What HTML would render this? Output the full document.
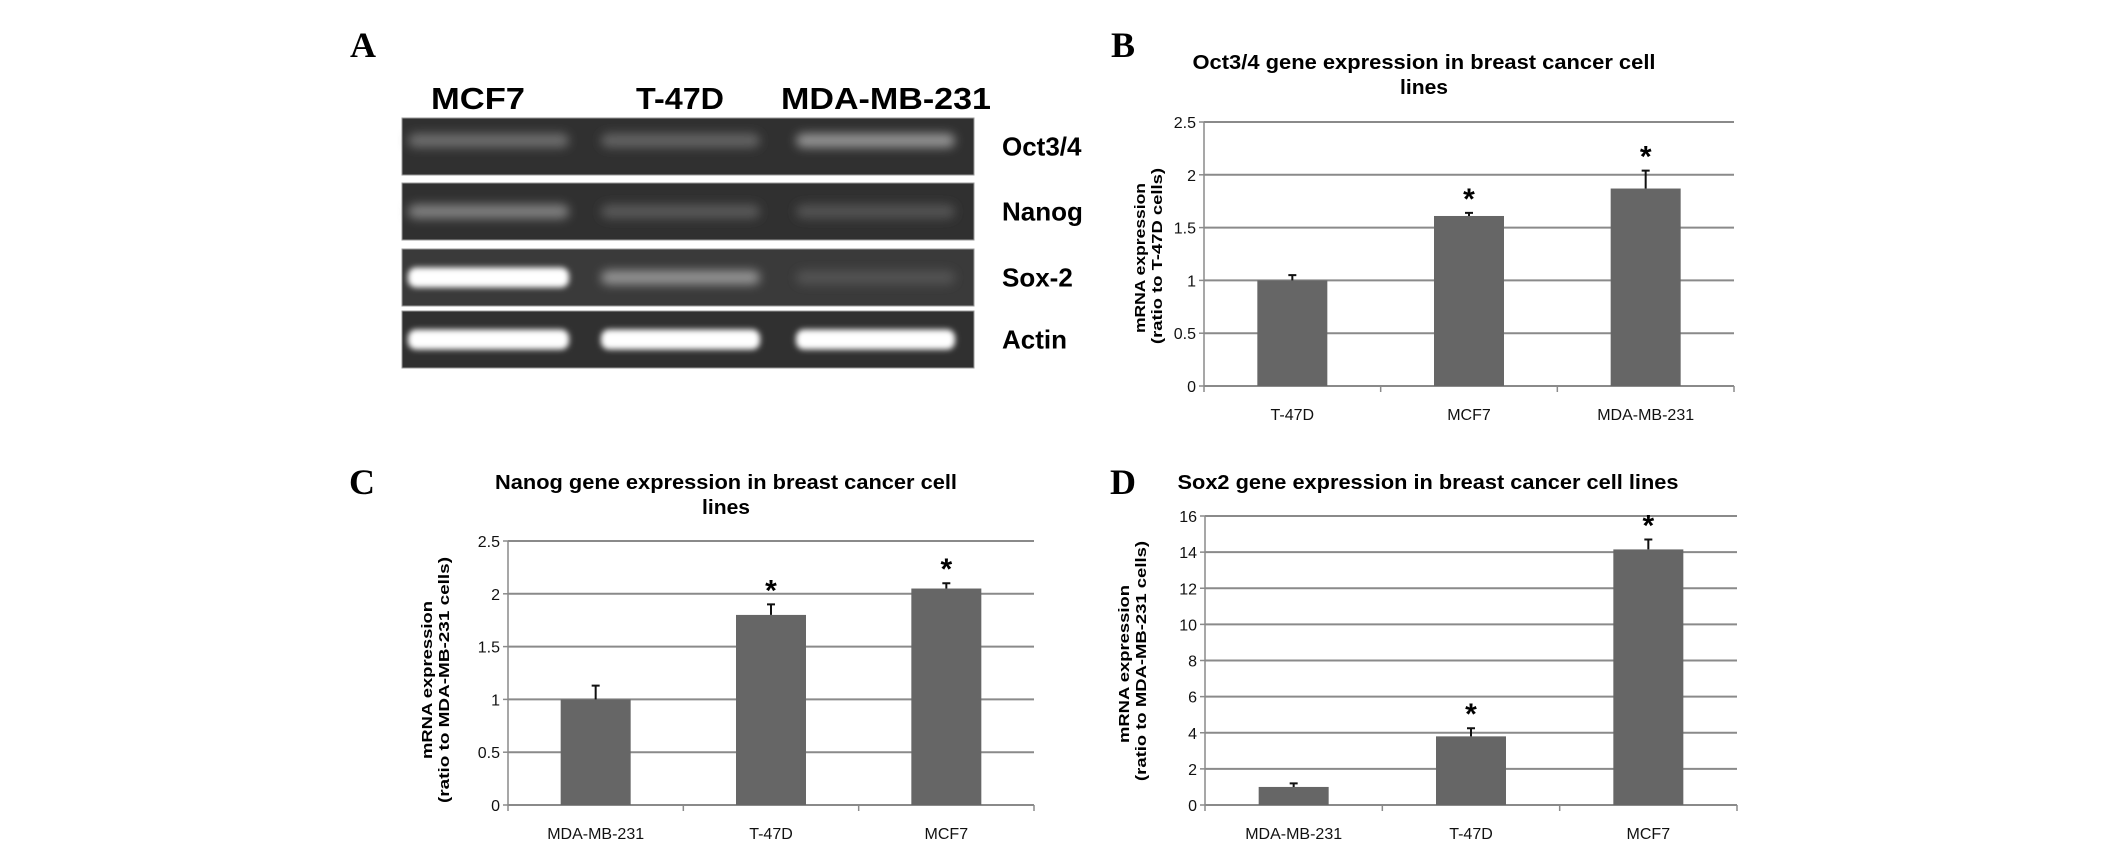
<!DOCTYPE html>
<html><head><meta charset="utf-8"><style>
html,body{margin:0;padding:0;background:#fff;}
svg{display:block;}
text{font-family:"Liberation Sans Narrow","Liberation Sans",sans-serif;}
.lab{font-family:"Liberation Serif",serif;font-weight:bold;font-size:36px;}
.gel{font-family:"Liberation Sans",sans-serif;font-weight:bold;}
.ttl{font-weight:bold;font-size:20px;}
.tick{font-size:16px;fill:#111;}
.ax{font-family:"Liberation Sans",sans-serif;font-weight:bold;font-size:15px;}
</style></head><body>
<svg id="fig" width="2126" height="842" viewBox="0 0 2126 842">
<defs>
<filter id="blur6" x="-20%" y="-100%" width="140%" height="300%"><feGaussianBlur stdDeviation="5"/></filter>
<filter id="blur3" x="-20%" y="-100%" width="140%" height="300%"><feGaussianBlur stdDeviation="3"/></filter>
</defs>
<text class="lab" x="350" y="57">A</text>
<text class="lab" x="1111" y="57">B</text>
<text class="lab" x="349" y="494">C</text>
<text class="lab" x="1110" y="494">D</text>
<g id="gelg"></g>
<g id="chartB"></g>
<g id="chartC"></g>
<g id="chartD"></g>
</svg>
<script>
const NS="http://www.w3.org/2000/svg";
// Gel data
const gelLanes=["MCF7","T-47D","MDA-MB-231"];
const gelGenes=["Oct3/4","Nanog","Sox-2","Actin"];
const gelIntensity=[[0.25,0.2,0.45],[0.35,0.15,0.12],[1.0,0.45,0.12],[1.0,1.0,1.0]];
// Chart B
const catsB=["T-47D","MCF7","MDA-MB-231"];
const valsB=[1.0,1.61,1.87];
const errB=[0.05,0.03,0.17];
const sigB=[false,true,true];
const ticksB=["0","0.5","1","1.5","2","2.5"];
// Chart C
const catsC=["MDA-MB-231","T-47D","MCF7"];
const valsC=[1.0,1.8,2.05];
const errC=[0.13,0.1,0.05];
const sigC=[false,true,true];
const ticksC=["0","0.5","1","1.5","2","2.5"];
// Chart D
const catsD=["MDA-MB-231","T-47D","MCF7"];
const valsD=[1.0,3.8,14.15];
const errD=[0.2,0.45,0.55];
const sigD=[false,true,true];
const ticksD=["0","2","4","6","8","10","12","14","16"];

function mk(tag,attrs,parent,txt){const e=document.createElementNS(NS,tag);for(const k in attrs)e.setAttribute(k,attrs[k]);if(txt!==undefined)e.textContent=txt;parent.appendChild(e);return e;}

// Gel
(function(){
  const g=document.getElementById('gelg');
  const gx0=402,gx1=974;
  const rowsY=[118,183,249,311],rowH=57;
  const laneX=[[408,569],[601,760],[796,955]];
  const labX=[478,680,886];
  const labW=[94,88,210];
  gelLanes.forEach((l,i)=>{
    const t=mk('text',{x:labX[i],y:109,'text-anchor':'middle','class':'gel','font-size':31,textLength:labW[i],lengthAdjust:'spacingAndGlyphs'},g,l);
    
    
  });
  gelGenes.forEach((gn,r)=>{
    const y=rowsY[r];
    const bg=mk('rect',{x:gx0,y:y,width:gx1-gx0,height:rowH,fill:r==2?'#3a3a3a':'#303030',stroke:'#999','stroke-width':1},g);
    
    
    gelIntensity[r].forEach((v,i)=>{
      const c=Math.round(60+195*v);
      const h=r==3?20:(r==2&&i==0?20:14);
      const b=mk('rect',{x:laneX[i][0],y:y+rowH/2-h/2-(r==0?6:0),width:laneX[i][1]-laneX[i][0],height:h,rx:8,fill:`rgb(${c},${c},${c})`,filter:v>0.9?'url(#blur3)':'url(#blur6)'},g);
      
      
    });
    const t=mk('text',{x:1002,y:y+rowH/2+9,'class':'gel','font-size':26},g,gn);
    
    
  });
})();

function chart(id,o){
  const g=document.getElementById(id);
  const {x0,x1,yT,yB,max,cats,vals,errs,sig,ticks,title,ytitle}=o;
  const ys=v=>yB-(v/max)*(yB-yT);
  const slot=(x1-x0)/cats.length;
  const xc=i=>x0+slot*(i+0.5);
  ticks.forEach(t=>{
    const v=parseFloat(t),y=ys(v);
    if(v>0){const gl=mk('line',{x1:x0,x2:x1,y1:y,y2:y,stroke:'#8a8a8a','stroke-width':2},g);
      }
    mk('line',{x1:x0-5,x2:x0,y1:y,y2:y,stroke:'#8a8a8a','stroke-width':1.5},g);
    const tl=mk('text',{x:x0-8,y:y+6,'text-anchor':'end','class':'tick'},g,t);
    
  });
  const ya=mk('line',{x1:x0,x2:x0,y1:yT,y2:yB,stroke:'#8a8a8a','stroke-width':1.5},g);
  
  const xa=mk('line',{x1:x0,x2:x1,y1:yB,y2:yB,stroke:'#8a8a8a','stroke-width':2},g);
  
  for(let i=0;i<=cats.length;i++)mk('line',{x1:x0+slot*i,x2:x0+slot*i,y1:yB,y2:yB+6,stroke:'#8a8a8a','stroke-width':1.5},g);
  cats.forEach((c,i)=>{
    const bw=70,x=xc(i),top=ys(vals[i]);
    const b=mk('rect',{x:x-bw/2,y:top,width:bw,height:yB-top,fill:'#666666'},g);
    
    const et=ys(vals[i]+errs[i]);
    const e=mk('path',{d:`M${x},${top} V${et} M${x-4},${et} H${x+4}`,stroke:'#111','stroke-width':2,fill:'none'},g);
    
    if(sig[i]){const s=mk('text',{x:x,y:et-4,'text-anchor':'middle','font-size':30,'font-weight':'bold','font-family':'Liberation Sans, sans-serif'},g,'*');
      }
    const l=mk('text',{x:x,y:yB+34,'text-anchor':'middle','class':'tick'},g,c);
    
  });
  title.forEach((t,k)=>{
    const tt=mk('text',{x:t.x,y:t.y,'text-anchor':'middle','class':'ttl',textLength:t.w,lengthAdjust:'spacingAndGlyphs'},g,t.s);
    
  });
  ytitle.forEach(t=>{
    const tt=mk('text',{x:0,y:0,'text-anchor':'middle','class':'ax',textLength:t.w,lengthAdjust:'spacingAndGlyphs',transform:`translate(${t.x},${t.y}) rotate(-90)`},g,t.s);
    
  });
}
chart('chartB',{x0:1204,x1:1734,yT:122,yB:386,max:2.5,cats:catsB,vals:valsB,errs:errB,sig:sigB,ticks:ticksB,
  title:[{s:'Oct3/4 gene expression in breast cancer cell',x:1424,y:69,w:463},{s:'lines',x:1424,y:94,w:48}],
  ytitle:[{s:'mRNA expression',x:1145,y:258,w:150},{s:'(ratio to T-47D cells)',x:1162,y:256,w:176}]});
chart('chartC',{x0:508,x1:1034,yT:541,yB:805,max:2.5,cats:catsC,vals:valsC,errs:errC,sig:sigC,ticks:ticksC,
  title:[{s:'Nanog gene expression in breast cancer cell',x:726,y:489,w:462},{s:'lines',x:726,y:514,w:48}],
  ytitle:[{s:'mRNA expression',x:432,y:680,w:158},{s:'(ratio to MDA-MB-231 cells)',x:449,y:680,w:246}]});
chart('chartD',{x0:1205,x1:1737,yT:516,yB:805,max:16,cats:catsD,vals:valsD,errs:errD,sig:sigD,ticks:ticksD,
  title:[{s:'Sox2 gene expression in breast cancer cell lines',x:1428,y:489,w:501}],
  ytitle:[{s:'mRNA expression',x:1129,y:664,w:158},{s:'(ratio to MDA-MB-231 cells)',x:1146,y:661,w:240}]});
</script>
</body></html>
